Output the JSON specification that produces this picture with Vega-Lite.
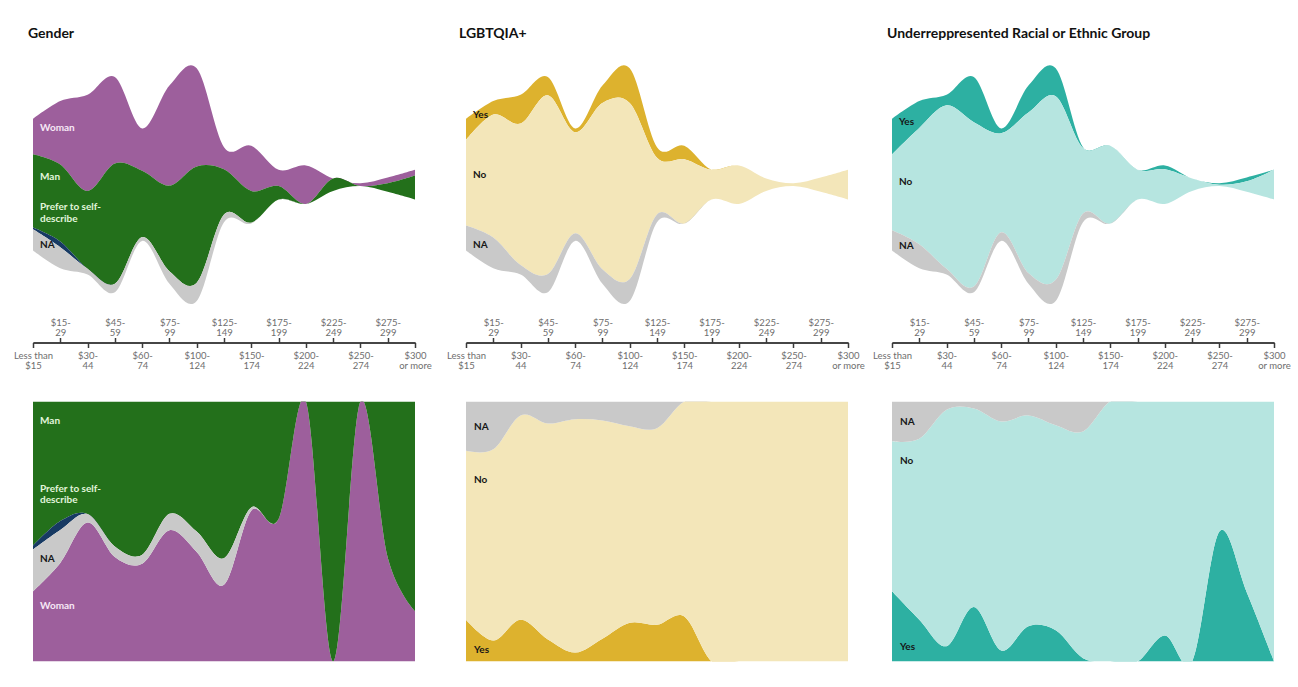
{
  "$schema": "https://vega.github.io/schema/vega-lite/v6.json",
  "background": "white",
  "padding": {"left": 13, "top": 27, "right": 5, "bottom": 5},
  "config": {"view": {"stroke": null}, "font": "Lato"},
  "datasets": {
    "survey": [
      {"panel":"Gender","income":"Less than $15","group":"Woman","count":37},
      {"panel":"Gender","income":"Less than $15","group":"Man","count":76},
      {"panel":"Gender","income":"Less than $15","group":"Prefer to self-describe","count":2},
      {"panel":"Gender","income":"Less than $15","group":"NA","count":22},
      {"panel":"Gender","income":"$15-29","group":"Woman","count":66},
      {"panel":"Gender","income":"$15-29","group":"Man","count":80},
      {"panel":"Gender","income":"$15-29","group":"Prefer to self-describe","count":6},
      {"panel":"Gender","income":"$15-29","group":"NA","count":22},
      {"panel":"Gender","income":"$30-44","group":"Woman","count":100},
      {"panel":"Gender","income":"$30-44","group":"Man","count":81},
      {"panel":"Gender","income":"$30-44","group":"Prefer to self-describe","count":0},
      {"panel":"Gender","income":"$30-44","group":"NA","count":6},
      {"panel":"Gender","income":"$45-59","group":"Woman","count":90},
      {"panel":"Gender","income":"$45-59","group":"Man","count":125},
      {"panel":"Gender","income":"$45-59","group":"Prefer to self-describe","count":0},
      {"panel":"Gender","income":"$45-59","group":"NA","count":9},
      {"panel":"Gender","income":"$60-74","group":"Woman","count":44},
      {"panel":"Gender","income":"$60-74","group":"Man","count":69},
      {"panel":"Gender","income":"$60-74","group":"Prefer to self-describe","count":0},
      {"panel":"Gender","income":"$60-74","group":"NA","count":4},
      {"panel":"Gender","income":"$75-99","group":"Woman","count":104},
      {"panel":"Gender","income":"$75-99","group":"Man","count":89},
      {"panel":"Gender","income":"$75-99","group":"Prefer to self-describe","count":0},
      {"panel":"Gender","income":"$75-99","group":"NA","count":13},
      {"panel":"Gender","income":"$100-124","group":"Woman","count":102},
      {"panel":"Gender","income":"$100-124","group":"Man","count":121},
      {"panel":"Gender","income":"$100-124","group":"Prefer to self-describe","count":0},
      {"panel":"Gender","income":"$100-124","group":"NA","count":19},
      {"panel":"Gender","income":"$125-149","group":"Woman","count":23},
      {"panel":"Gender","income":"$125-149","group":"Man","count":47},
      {"panel":"Gender","income":"$125-149","group":"Prefer to self-describe","count":0},
      {"panel":"Gender","income":"$125-149","group":"NA","count":8},
      {"panel":"Gender","income":"$150-174","group":"Woman","count":47},
      {"panel":"Gender","income":"$150-174","group":"Man","count":33},
      {"panel":"Gender","income":"$150-174","group":"Prefer to self-describe","count":0},
      {"panel":"Gender","income":"$150-174","group":"NA","count":1},
      {"panel":"Gender","income":"$175-199","group":"Woman","count":17},
      {"panel":"Gender","income":"$175-199","group":"Man","count":14},
      {"panel":"Gender","income":"$175-199","group":"Prefer to self-describe","count":0},
      {"panel":"Gender","income":"$175-199","group":"NA","count":0},
      {"panel":"Gender","income":"$200-224","group":"Woman","count":40},
      {"panel":"Gender","income":"$200-224","group":"Man","count":0},
      {"panel":"Gender","income":"$200-224","group":"Prefer to self-describe","count":0},
      {"panel":"Gender","income":"$200-224","group":"NA","count":0},
      {"panel":"Gender","income":"$225-249","group":"Woman","count":0},
      {"panel":"Gender","income":"$225-249","group":"Man","count":13},
      {"panel":"Gender","income":"$225-249","group":"Prefer to self-describe","count":0},
      {"panel":"Gender","income":"$225-249","group":"NA","count":0},
      {"panel":"Gender","income":"$250-274","group":"Woman","count":3},
      {"panel":"Gender","income":"$250-274","group":"Man","count":0},
      {"panel":"Gender","income":"$250-274","group":"Prefer to self-describe","count":0},
      {"panel":"Gender","income":"$250-274","group":"NA","count":0},
      {"panel":"Gender","income":"$275-299","group":"Woman","count":6},
      {"panel":"Gender","income":"$275-299","group":"Man","count":9},
      {"panel":"Gender","income":"$275-299","group":"Prefer to self-describe","count":0},
      {"panel":"Gender","income":"$275-299","group":"NA","count":0},
      {"panel":"Gender","income":"$300 or more","group":"Woman","count":6},
      {"panel":"Gender","income":"$300 or more","group":"Man","count":25},
      {"panel":"Gender","income":"$300 or more","group":"Prefer to self-describe","count":0},
      {"panel":"Gender","income":"$300 or more","group":"NA","count":0},

      {"panel":"LGBTQIA+","income":"Less than $15","group":"Yes","count":22},
      {"panel":"LGBTQIA+","income":"Less than $15","group":"No","count":89},
      {"panel":"LGBTQIA+","income":"Less than $15","group":"NA","count":26},
      {"panel":"LGBTQIA+","income":"$15-29","group":"Yes","count":14},
      {"panel":"LGBTQIA+","income":"$15-29","group":"No","count":128},
      {"panel":"LGBTQIA+","income":"$15-29","group":"NA","count":32},
      {"panel":"LGBTQIA+","income":"$30-44","group":"Yes","count":30},
      {"panel":"LGBTQIA+","income":"$30-44","group":"No","count":147},
      {"panel":"LGBTQIA+","income":"$30-44","group":"NA","count":10},
      {"panel":"LGBTQIA+","income":"$45-59","group":"Yes","count":19},
      {"panel":"LGBTQIA+","income":"$45-59","group":"No","count":186},
      {"panel":"LGBTQIA+","income":"$45-59","group":"NA","count":19},
      {"panel":"LGBTQIA+","income":"$60-74","group":"Yes","count":4},
      {"panel":"LGBTQIA+","income":"$60-74","group":"No","count":105},
      {"panel":"LGBTQIA+","income":"$60-74","group":"NA","count":8},
      {"panel":"LGBTQIA+","income":"$75-99","group":"Yes","count":18},
      {"panel":"LGBTQIA+","income":"$75-99","group":"No","count":173},
      {"panel":"LGBTQIA+","income":"$75-99","group":"NA","count":15},
      {"panel":"LGBTQIA+","income":"$100-124","group":"Yes","count":36},
      {"panel":"LGBTQIA+","income":"$100-124","group":"No","count":183},
      {"panel":"LGBTQIA+","income":"$100-124","group":"NA","count":23},
      {"panel":"LGBTQIA+","income":"$125-149","group":"Yes","count":11},
      {"panel":"LGBTQIA+","income":"$125-149","group":"No","count":59},
      {"panel":"LGBTQIA+","income":"$125-149","group":"NA","count":8},
      {"panel":"LGBTQIA+","income":"$150-174","group":"Yes","count":14},
      {"panel":"LGBTQIA+","income":"$150-174","group":"No","count":67},
      {"panel":"LGBTQIA+","income":"$150-174","group":"NA","count":0},
      {"panel":"LGBTQIA+","income":"$175-199","group":"Yes","count":0},
      {"panel":"LGBTQIA+","income":"$175-199","group":"No","count":31},
      {"panel":"LGBTQIA+","income":"$175-199","group":"NA","count":0},
      {"panel":"LGBTQIA+","income":"$200-224","group":"Yes","count":0},
      {"panel":"LGBTQIA+","income":"$200-224","group":"No","count":40},
      {"panel":"LGBTQIA+","income":"$200-224","group":"NA","count":0},
      {"panel":"LGBTQIA+","income":"$225-249","group":"Yes","count":0},
      {"panel":"LGBTQIA+","income":"$225-249","group":"No","count":13},
      {"panel":"LGBTQIA+","income":"$225-249","group":"NA","count":0},
      {"panel":"LGBTQIA+","income":"$250-274","group":"Yes","count":0},
      {"panel":"LGBTQIA+","income":"$250-274","group":"No","count":3},
      {"panel":"LGBTQIA+","income":"$250-274","group":"NA","count":0},
      {"panel":"LGBTQIA+","income":"$275-299","group":"Yes","count":0},
      {"panel":"LGBTQIA+","income":"$275-299","group":"No","count":15},
      {"panel":"LGBTQIA+","income":"$275-299","group":"NA","count":0},
      {"panel":"LGBTQIA+","income":"$300 or more","group":"Yes","count":0},
      {"panel":"LGBTQIA+","income":"$300 or more","group":"No","count":31},
      {"panel":"LGBTQIA+","income":"$300 or more","group":"NA","count":0},

      {"panel":"Race","income":"Less than $15","group":"Yes","count":37},
      {"panel":"Race","income":"Less than $15","group":"No","count":79},
      {"panel":"Race","income":"Less than $15","group":"NA","count":21},
      {"panel":"Race","income":"$15-29","group":"Yes","count":28},
      {"panel":"Race","income":"$15-29","group":"No","count":121},
      {"panel":"Race","income":"$15-29","group":"NA","count":25},
      {"panel":"Race","income":"$30-44","group":"Yes","count":11},
      {"panel":"Race","income":"$30-44","group":"No","count":170},
      {"panel":"Race","income":"$30-44","group":"NA","count":6},
      {"panel":"Race","income":"$45-59","group":"Yes","count":47},
      {"panel":"Race","income":"$45-59","group":"No","count":171},
      {"panel":"Race","income":"$45-59","group":"NA","count":6},
      {"panel":"Race","income":"$60-74","group":"Yes","count":5},
      {"panel":"Race","income":"$60-74","group":"No","count":103},
      {"panel":"Race","income":"$60-74","group":"NA","count":9},
      {"panel":"Race","income":"$75-99","group":"Yes","count":28},
      {"panel":"Race","income":"$75-99","group":"No","count":167},
      {"panel":"Race","income":"$75-99","group":"NA","count":11},
      {"panel":"Race","income":"$100-124","group":"Yes","count":29},
      {"panel":"Race","income":"$100-124","group":"No","count":191},
      {"panel":"Race","income":"$100-124","group":"NA","count":22},
      {"panel":"Race","income":"$125-149","group":"Yes","count":1},
      {"panel":"Race","income":"$125-149","group":"No","count":68},
      {"panel":"Race","income":"$125-149","group":"NA","count":9},
      {"panel":"Race","income":"$150-174","group":"Yes","count":0},
      {"panel":"Race","income":"$150-174","group":"No","count":81},
      {"panel":"Race","income":"$150-174","group":"NA","count":0},
      {"panel":"Race","income":"$175-199","group":"Yes","count":0},
      {"panel":"Race","income":"$175-199","group":"No","count":31},
      {"panel":"Race","income":"$175-199","group":"NA","count":0},
      {"panel":"Race","income":"$200-224","group":"Yes","count":4},
      {"panel":"Race","income":"$200-224","group":"No","count":36},
      {"panel":"Race","income":"$200-224","group":"NA","count":0},
      {"panel":"Race","income":"$225-249","group":"Yes","count":0},
      {"panel":"Race","income":"$225-249","group":"No","count":13},
      {"panel":"Race","income":"$225-249","group":"NA","count":0},
      {"panel":"Race","income":"$250-274","group":"Yes","count":1.5},
      {"panel":"Race","income":"$250-274","group":"No","count":1.5},
      {"panel":"Race","income":"$250-274","group":"NA","count":0},
      {"panel":"Race","income":"$275-299","group":"Yes","count":4},
      {"panel":"Race","income":"$275-299","group":"No","count":11},
      {"panel":"Race","income":"$275-299","group":"NA","count":0},
      {"panel":"Race","income":"$300 or more","group":"Yes","count":0},
      {"panel":"Race","income":"$300 or more","group":"No","count":31},
      {"panel":"Race","income":"$300 or more","group":"NA","count":0}
    ],
    "labels": [
      {"panel":"Gender","chart":"stream","income":"Less than $15","group":"Woman","label":"Woman","pos":180},
      {"panel":"Gender","chart":"stream","income":"Less than $15","group":"Man","label":"Man","pos":128.7},
      {"panel":"Gender","chart":"stream","income":"Less than $15","group":"Prefer to self-describe","label":"Prefer to self-\ndescribe","pos":97.7},
      {"panel":"Gender","chart":"stream","income":"Less than $15","group":"NA","label":"NA","pos":58.3},
      {"panel":"LGBTQIA+","chart":"stream","income":"Less than $15","group":"Yes","label":"Yes","pos":193.7},
      {"panel":"LGBTQIA+","chart":"stream","income":"Less than $15","group":"No","label":"No","pos":131.5},
      {"panel":"LGBTQIA+","chart":"stream","income":"Less than $15","group":"NA","label":"NA","pos":58.7},
      {"panel":"Race","chart":"stream","income":"Less than $15","group":"Yes","label":"Yes","pos":186.5},
      {"panel":"Race","chart":"stream","income":"Less than $15","group":"No","label":"No","pos":123.8},
      {"panel":"Race","chart":"stream","income":"Less than $15","group":"NA","label":"NA","pos":57},
      {"panel":"Gender","chart":"share","income":"Less than $15","group":"Man","label":"Man","pos":0.924},
      {"panel":"Gender","chart":"share","income":"Less than $15","group":"Prefer to self-describe","label":"Prefer to self-\ndescribe","pos":0.665},
      {"panel":"Gender","chart":"share","income":"Less than $15","group":"NA","label":"NA","pos":0.396},
      {"panel":"Gender","chart":"share","income":"Less than $15","group":"Woman","label":"Woman","pos":0.213},
      {"panel":"LGBTQIA+","chart":"share","income":"Less than $15","group":"NA","label":"NA","pos":0.901},
      {"panel":"LGBTQIA+","chart":"share","income":"Less than $15","group":"No","label":"No","pos":0.70},
      {"panel":"LGBTQIA+","chart":"share","income":"Less than $15","group":"Yes","label":"Yes","pos":0.046},
      {"panel":"Race","chart":"share","income":"Less than $15","group":"NA","label":"NA","pos":0.922},
      {"panel":"Race","chart":"share","income":"Less than $15","group":"No","label":"No","pos":0.770},
      {"panel":"Race","chart":"share","income":"Less than $15","group":"Yes","label":"Yes","pos":0.055}
    ]
  },
  "spacing": 14,
  "resolve": {"scale": {"x": "independent", "y": "independent", "color": "independent"}},
  "hconcat": [
    {
      "bounds": "flush",
      "spacing": 100.5,
      "resolve": {"scale": {"x": "independent", "y": "independent", "color": "independent"}},
      "title": {"text": "Gender", "anchor": "start", "frame": "group", "dx": -5, "offset": -1, "baseline": "alphabetic", "fontSize": 14, "fontWeight": "bold", "color": "#111111", "font": "Lato"},
      "vconcat": [
        {
          "width": 382, "height": 250,
          "layer": [
            {
              "data": {"name": "survey"},
              "transform": [{"filter": "datum.panel == 'Gender'"}, {"calculate": "indexof(['NA','Prefer to self-describe','Man','Woman'], datum.group)", "as": "stackOrder"}],
              "mark": {"type": "area", "interpolate": "cardinal"},
              "encoding": {
                "x": {"field": "income", "type": "ordinal", "scale": {"type": "point", "padding": 0, "domain": ["Less than $15","$15-29","$30-44","$45-59","$60-74","$75-99","$100-124","$125-149","$150-174","$175-199","$200-224","$225-249","$250-274","$275-299","$300 or more"]},
                  "axis": {"orient": "bottom", "offset": 41.5, "values": ["Less than $15","$30-44","$60-74","$100-124","$150-174","$200-224","$250-274","$300 or more"], "labelExpr": "datum.value == 'Less than $15' ? ['Less than', '$15'] : datum.value == '$300 or more' ? ['$300', 'or more'] : [slice(datum.value, 0, indexof(datum.value, '-') + 1), slice(datum.value, indexof(datum.value, '-') + 1)]", "tickSize": 5, "labelPadding": 3, "labelBaseline": "top", "labelFontSize": 9.5, "labelLineHeight": 9.5, "labelColor": "#6e6e6e", "labelFont": "Lato", "domainColor": "#3a3a3a", "domainWidth": 1.5, "tickColor": "#3a3a3a", "tickWidth": 1.5, "labelAngle": 0, "labelOverlap": false, "labelFlush": false, "labelBound": false, "grid": false, "title": null}},
                "y": {"field": "count", "type": "quantitative", "stack": "center", "scale": {"domain": [4.5, 254.5]}, "axis": null},
                "color": {"field": "group", "type": "nominal", "scale": {"domain": ["Woman","Man","Prefer to self-describe","NA"], "range": ["#9D5F9C","#23701B","#173A63","#C9C9C9"]}, "legend": null},
                "order": {"field": "stackOrder", "type": "quantitative"}
              }
            },
            {
              "data": {"name": "labels"},
              "transform": [{"filter": "datum.panel == 'Gender' && datum.chart == 'stream'"}],
              "mark": {"type": "text", "align": "left", "baseline": "middle", "dx": 7, "fontSize": 10, "fontWeight": "bold", "font": "Lato", "lineBreak": "\n", "lineHeight": 11.5},
              "encoding": {
                "x": {"field": "income", "type": "ordinal", "scale": {"type": "point", "padding": 0, "domain": ["Less than $15","$15-29","$30-44","$45-59","$60-74","$75-99","$100-124","$125-149","$150-174","$175-199","$200-224","$225-249","$250-274","$275-299","$300 or more"]},
                  "axis": {"orient": "top", "offset": -291.5, "values": ["$15-29","$45-59","$75-99","$125-149","$175-199","$225-249","$275-299"], "labelExpr": "[slice(datum.value, 0, indexof(datum.value, '-') + 1), slice(datum.value, indexof(datum.value, '-') + 1)]", "tickSize": 5, "labelPadding": 10, "labelBaseline": "bottom", "labelFontSize": 9.5, "labelLineHeight": 9.5, "labelColor": "#6e6e6e", "labelFont": "Lato", "domainColor": "#3a3a3a", "domainWidth": 1.5, "tickColor": "#3a3a3a", "tickWidth": 1.5, "labelAngle": 0, "labelOverlap": false, "labelFlush": false, "labelBound": false, "grid": false, "title": null}},
                "y": {"field": "pos", "type": "quantitative"},
                "text": {"field": "label", "type": "nominal"},
                "color": {"condition": [{"test": "datum.group == 'Woman'", "value": "#F7E8F6"}, {"test": "datum.group == 'Man' || datum.group == 'Prefer to self-describe'", "value": "#E2F6DC"}], "value": "#161616"}
              }
            }
          ],
          "resolve": {"axis": {"x": "independent"}}
        },
        {
          "width": 382, "height": 260,
          "layer": [
            {
              "data": {"name": "survey"},
              "transform": [{"filter": "datum.panel == 'Gender'"}, {"calculate": "indexof(['Woman','NA','Prefer to self-describe','Man'], datum.group)", "as": "stackOrder"}],
              "mark": {"type": "area", "interpolate": "cardinal", "clip": true},
              "encoding": {
                "x": {"field": "income", "type": "ordinal", "scale": {"type": "point", "padding": 0, "domain": ["Less than $15","$15-29","$30-44","$45-59","$60-74","$75-99","$100-124","$125-149","$150-174","$175-199","$200-224","$225-249","$250-274","$275-299","$300 or more"]}, "axis": null},
                "y": {"field": "count", "type": "quantitative", "stack": "normalize", "scale": {"domain": [0, 1]}, "axis": null},
                "color": {"field": "group", "type": "nominal", "scale": {"domain": ["Woman","Man","Prefer to self-describe","NA"], "range": ["#9D5F9C","#23701B","#173A63","#C9C9C9"]}, "legend": null},
                "order": {"field": "stackOrder", "type": "quantitative"}
              }
            },
            {
              "data": {"name": "labels"},
              "transform": [{"filter": "datum.panel == 'Gender' && datum.chart == 'share'"}],
              "mark": {"type": "text", "align": "left", "baseline": "middle", "dx": 7, "fontSize": 10, "fontWeight": "bold", "font": "Lato", "lineBreak": "\n", "lineHeight": 11.5},
              "encoding": {
                "x": {"field": "income", "type": "ordinal", "scale": {"type": "point", "padding": 0, "domain": ["Less than $15","$15-29","$30-44","$45-59","$60-74","$75-99","$100-124","$125-149","$150-174","$175-199","$200-224","$225-249","$250-274","$275-299","$300 or more"]}, "axis": null},
                "y": {"field": "pos", "type": "quantitative"},
                "text": {"field": "label", "type": "nominal"},
                "color": {"condition": [{"test": "datum.group == 'Woman'", "value": "#F7E8F6"}, {"test": "datum.group == 'Man' || datum.group == 'Prefer to self-describe'", "value": "#E2F6DC"}], "value": "#161616"}
              }
            }
          ]
        }
      ]
    },
    {
      "spacing": 7,
      "resolve": {"scale": {"x": "independent", "y": "independent", "color": "independent"}},
      "hconcat": [
        {
          "bounds": "flush",
          "spacing": 100.5,
          "resolve": {"scale": {"x": "independent", "y": "independent", "color": "independent"}},
          "title": {"text": "LGBTQIA+", "anchor": "start", "frame": "group", "dx": -7, "offset": -1, "baseline": "alphabetic", "fontSize": 14, "fontWeight": "bold", "color": "#111111", "font": "Lato"},
          "vconcat": [
            {
              "width": 382, "height": 250,
              "layer": [
                {
                  "data": {"name": "survey"},
                  "transform": [{"filter": "datum.panel == 'LGBTQIA+'"}, {"calculate": "indexof(['NA','No','Yes'], datum.group)", "as": "stackOrder"}],
                  "mark": {"type": "area", "interpolate": "cardinal"},
                  "encoding": {
                    "x": {"field": "income", "type": "ordinal", "scale": {"type": "point", "padding": 0, "domain": ["Less than $15","$15-29","$30-44","$45-59","$60-74","$75-99","$100-124","$125-149","$150-174","$175-199","$200-224","$225-249","$250-274","$275-299","$300 or more"]},
                      "axis": {"orient": "bottom", "offset": 41.5, "values": ["Less than $15","$30-44","$60-74","$100-124","$150-174","$200-224","$250-274","$300 or more"], "labelExpr": "datum.value == 'Less than $15' ? ['Less than', '$15'] : datum.value == '$300 or more' ? ['$300', 'or more'] : [slice(datum.value, 0, indexof(datum.value, '-') + 1), slice(datum.value, indexof(datum.value, '-') + 1)]", "tickSize": 5, "labelPadding": 3, "labelBaseline": "top", "labelFontSize": 9.5, "labelLineHeight": 9.5, "labelColor": "#6e6e6e", "labelFont": "Lato", "domainColor": "#3a3a3a", "domainWidth": 1.5, "tickColor": "#3a3a3a", "tickWidth": 1.5, "labelAngle": 0, "labelOverlap": false, "labelFlush": false, "labelBound": false, "grid": false, "title": null}},
                    "y": {"field": "count", "type": "quantitative", "stack": "center", "scale": {"domain": [4.5, 254.5]}, "axis": null},
                    "color": {"field": "group", "type": "nominal", "scale": {"domain": ["Yes","No","NA"], "range": ["#DDB22E","#F3E6B9","#C9C9C9"]}, "legend": null},
                    "order": {"field": "stackOrder", "type": "quantitative"}
                  }
                },
                {
                  "data": {"name": "labels"},
                  "transform": [{"filter": "datum.panel == 'LGBTQIA+' && datum.chart == 'stream'"}],
                  "mark": {"type": "text", "align": "left", "baseline": "middle", "dx": 7, "fontSize": 10, "fontWeight": "bold", "font": "Lato", "color": "#161616"},
                  "encoding": {
                    "x": {"field": "income", "type": "ordinal", "scale": {"type": "point", "padding": 0, "domain": ["Less than $15","$15-29","$30-44","$45-59","$60-74","$75-99","$100-124","$125-149","$150-174","$175-199","$200-224","$225-249","$250-274","$275-299","$300 or more"]},
                      "axis": {"orient": "top", "offset": -291.5, "values": ["$15-29","$45-59","$75-99","$125-149","$175-199","$225-249","$275-299"], "labelExpr": "[slice(datum.value, 0, indexof(datum.value, '-') + 1), slice(datum.value, indexof(datum.value, '-') + 1)]", "tickSize": 5, "labelPadding": 10, "labelBaseline": "bottom", "labelFontSize": 9.5, "labelLineHeight": 9.5, "labelColor": "#6e6e6e", "labelFont": "Lato", "domainColor": "#3a3a3a", "domainWidth": 1.5, "tickColor": "#3a3a3a", "tickWidth": 1.5, "labelAngle": 0, "labelOverlap": false, "labelFlush": false, "labelBound": false, "grid": false, "title": null}},
                    "y": {"field": "pos", "type": "quantitative"},
                    "text": {"field": "label", "type": "nominal"}
                  }
                }
              ],
              "resolve": {"axis": {"x": "independent"}}
            },
            {
              "width": 382, "height": 260,
              "layer": [
                {
                  "data": {"name": "survey"},
                  "transform": [{"filter": "datum.panel == 'LGBTQIA+'"}, {"calculate": "indexof(['Yes','No','NA'], datum.group)", "as": "stackOrder"}],
                  "mark": {"type": "area", "interpolate": "cardinal", "clip": true},
                  "encoding": {
                    "x": {"field": "income", "type": "ordinal", "scale": {"type": "point", "padding": 0, "domain": ["Less than $15","$15-29","$30-44","$45-59","$60-74","$75-99","$100-124","$125-149","$150-174","$175-199","$200-224","$225-249","$250-274","$275-299","$300 or more"]}, "axis": null},
                    "y": {"field": "count", "type": "quantitative", "stack": "normalize", "scale": {"domain": [0, 1]}, "axis": null},
                    "color": {"field": "group", "type": "nominal", "scale": {"domain": ["Yes","No","NA"], "range": ["#DDB22E","#F3E6B9","#C9C9C9"]}, "legend": null},
                    "order": {"field": "stackOrder", "type": "quantitative"}
                  }
                },
                {
                  "data": {"name": "labels"},
                  "transform": [{"filter": "datum.panel == 'LGBTQIA+' && datum.chart == 'share'"}],
                  "mark": {"type": "text", "align": "left", "baseline": "middle", "dx": 8, "fontSize": 10, "fontWeight": "bold", "font": "Lato", "color": "#161616"},
                  "encoding": {
                    "x": {"field": "income", "type": "ordinal", "scale": {"type": "point", "padding": 0, "domain": ["Less than $15","$15-29","$30-44","$45-59","$60-74","$75-99","$100-124","$125-149","$150-174","$175-199","$200-224","$225-249","$250-274","$275-299","$300 or more"]}, "axis": null},
                    "y": {"field": "pos", "type": "quantitative"},
                    "text": {"field": "label", "type": "nominal"}
                  }
                }
              ]
            }
          ]
        },
        {
          "bounds": "flush",
          "spacing": 100.5,
          "resolve": {"scale": {"x": "independent", "y": "independent", "color": "independent"}},
          "title": {"text": "Underreppresented Racial or Ethnic Group", "anchor": "start", "frame": "group", "dx": -5, "offset": -1, "baseline": "alphabetic", "fontSize": 14, "fontWeight": "bold", "color": "#111111", "font": "Lato"},
          "vconcat": [
            {
              "width": 382, "height": 250,
              "layer": [
                {
                  "data": {"name": "survey"},
                  "transform": [{"filter": "datum.panel == 'Race'"}, {"calculate": "indexof(['NA','No','Yes'], datum.group)", "as": "stackOrder"}],
                  "mark": {"type": "area", "interpolate": "cardinal"},
                  "encoding": {
                    "x": {"field": "income", "type": "ordinal", "scale": {"type": "point", "padding": 0, "domain": ["Less than $15","$15-29","$30-44","$45-59","$60-74","$75-99","$100-124","$125-149","$150-174","$175-199","$200-224","$225-249","$250-274","$275-299","$300 or more"]},
                      "axis": {"orient": "bottom", "offset": 41.5, "values": ["Less than $15","$30-44","$60-74","$100-124","$150-174","$200-224","$250-274","$300 or more"], "labelExpr": "datum.value == 'Less than $15' ? ['Less than', '$15'] : datum.value == '$300 or more' ? ['$300', 'or more'] : [slice(datum.value, 0, indexof(datum.value, '-') + 1), slice(datum.value, indexof(datum.value, '-') + 1)]", "tickSize": 5, "labelPadding": 3, "labelBaseline": "top", "labelFontSize": 9.5, "labelLineHeight": 9.5, "labelColor": "#6e6e6e", "labelFont": "Lato", "domainColor": "#3a3a3a", "domainWidth": 1.5, "tickColor": "#3a3a3a", "tickWidth": 1.5, "labelAngle": 0, "labelOverlap": false, "labelFlush": false, "labelBound": false, "grid": false, "title": null}},
                    "y": {"field": "count", "type": "quantitative", "stack": "center", "scale": {"domain": [4.5, 254.5]}, "axis": null},
                    "color": {"field": "group", "type": "nominal", "scale": {"domain": ["Yes","No","NA"], "range": ["#2DB0A2","#B6E5E0","#C9C9C9"]}, "legend": null},
                    "order": {"field": "stackOrder", "type": "quantitative"}
                  }
                },
                {
                  "data": {"name": "labels"},
                  "transform": [{"filter": "datum.panel == 'Race' && datum.chart == 'stream'"}],
                  "mark": {"type": "text", "align": "left", "baseline": "middle", "dx": 7, "fontSize": 10, "fontWeight": "bold", "font": "Lato", "color": "#161616"},
                  "encoding": {
                    "x": {"field": "income", "type": "ordinal", "scale": {"type": "point", "padding": 0, "domain": ["Less than $15","$15-29","$30-44","$45-59","$60-74","$75-99","$100-124","$125-149","$150-174","$175-199","$200-224","$225-249","$250-274","$275-299","$300 or more"]},
                      "axis": {"orient": "top", "offset": -291.5, "values": ["$15-29","$45-59","$75-99","$125-149","$175-199","$225-249","$275-299"], "labelExpr": "[slice(datum.value, 0, indexof(datum.value, '-') + 1), slice(datum.value, indexof(datum.value, '-') + 1)]", "tickSize": 5, "labelPadding": 10, "labelBaseline": "bottom", "labelFontSize": 9.5, "labelLineHeight": 9.5, "labelColor": "#6e6e6e", "labelFont": "Lato", "domainColor": "#3a3a3a", "domainWidth": 1.5, "tickColor": "#3a3a3a", "tickWidth": 1.5, "labelAngle": 0, "labelOverlap": false, "labelFlush": false, "labelBound": false, "grid": false, "title": null}},
                    "y": {"field": "pos", "type": "quantitative"},
                    "text": {"field": "label", "type": "nominal"}
                  }
                }
              ],
              "resolve": {"axis": {"x": "independent"}}
            },
            {
              "width": 382, "height": 260,
              "layer": [
                {
                  "data": {"name": "survey"},
                  "transform": [{"filter": "datum.panel == 'Race'"}, {"calculate": "indexof(['Yes','No','NA'], datum.group)", "as": "stackOrder"}],
                  "mark": {"type": "area", "interpolate": "cardinal", "clip": true},
                  "encoding": {
                    "x": {"field": "income", "type": "ordinal", "scale": {"type": "point", "padding": 0, "domain": ["Less than $15","$15-29","$30-44","$45-59","$60-74","$75-99","$100-124","$125-149","$150-174","$175-199","$200-224","$225-249","$250-274","$275-299","$300 or more"]}, "axis": null},
                    "y": {"field": "count", "type": "quantitative", "stack": "normalize", "scale": {"domain": [0, 1]}, "axis": null},
                    "color": {"field": "group", "type": "nominal", "scale": {"domain": ["Yes","No","NA"], "range": ["#2DB0A2","#B6E5E0","#C9C9C9"]}, "legend": null},
                    "order": {"field": "stackOrder", "type": "quantitative"}
                  }
                },
                {
                  "data": {"name": "labels"},
                  "transform": [{"filter": "datum.panel == 'Race' && datum.chart == 'share'"}],
                  "mark": {"type": "text", "align": "left", "baseline": "middle", "dx": 8, "fontSize": 10, "fontWeight": "bold", "font": "Lato", "color": "#161616"},
                  "encoding": {
                    "x": {"field": "income", "type": "ordinal", "scale": {"type": "point", "padding": 0, "domain": ["Less than $15","$15-29","$30-44","$45-59","$60-74","$75-99","$100-124","$125-149","$150-174","$175-199","$200-224","$225-249","$250-274","$275-299","$300 or more"]}, "axis": null},
                    "y": {"field": "pos", "type": "quantitative"},
                    "text": {"field": "label", "type": "nominal"}
                  }
                }
              ]
            }
          ]
        }
      ]
    }
  ]
}
